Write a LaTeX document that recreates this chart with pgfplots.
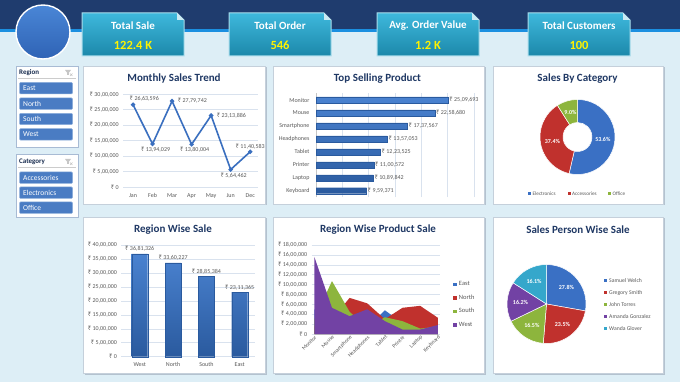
\documentclass[border=0pt]{standalone}
\usepackage{fontspec}
\setmainfont{Carlito}
\newfontfamily\rsfont{Noto Sans}
\newcommand\Rs{{\rsfont ₹}}
\usepackage{pgfplots}
\pgfplotsset{compat=1.18}
\definecolor{navy}{HTML}{1F3C6E}
\definecolor{stripe}{HTML}{1B8FE0}
\definecolor{bgc}{HTML}{DDEEF6}
\definecolor{cardtop}{HTML}{3EB8DC}
\definecolor{cardbot}{HTML}{1C88AA}
\definecolor{cardbd}{HTML}{A9DCEB}
\definecolor{titlec}{HTML}{1F3864}
\definecolor{tickgray}{HTML}{595959}
\definecolor{gridc}{HTML}{D9E2EE}
\definecolor{linec}{HTML}{3A6FBF}
\definecolor{panelbd}{HTML}{C5D0DB}
\definecolor{shadowc}{HTML}{B4C2CF}
\definecolor{btn}{HTML}{4A7CC3}
\definecolor{btnbd}{HTML}{8FB0DC}
\definecolor{slbd}{HTML}{A8BBD4}
\definecolor{circTop}{HTML}{4A86D6}
\definecolor{circBot}{HTML}{2F63B5}
\definecolor{pBlue}{HTML}{3A70C4}
\definecolor{pRed}{HTML}{C0312D}
\definecolor{pGreen}{HTML}{8DB53D}
\definecolor{pPurple}{HTML}{7242A4}
\definecolor{pTeal}{HTML}{35A7CB}
\definecolor{barTop}{HTML}{4A82D0}
\definecolor{barBot}{HTML}{2A5A9E}
\pgfplotsset{
  dbase/.style={scale only axis, anchor=north west, clip=false, scaled ticks=false,
    axis line style={draw=none}, major tick style={draw=none},
    tick label style={font=\fontsize{6}{7}\selectfont, text=tickgray},
    /pgf/number format/assume math mode=true,
    grid style={draw=gridc, line width=0.5pt}},
  nlab/.style={draw=none, mark=none, nodes near coords, point meta=explicit symbolic,
    nodes near coords style={font=\fontsize{6}{7}\selectfont, text=tickgray, inner sep=0.5pt}},
}
\begin{document}
\begin{tikzpicture}
\path[use as bounding box] (0,0) rectangle (680pt,-382pt);
\clip (0,0) rectangle (680pt,-382pt);
\begin{scope}[x=1pt,y=-1pt]
\fill[bgc] (0,0) rectangle (680,382);
\fill[navy] (0,0) rectangle (680,29);
\fill[stripe] (0,29) rectangle (680,32);
% logo circle
\shade[top color=circTop, bottom color=circBot] (43,32) circle[radius=27pt];
\draw[white, line width=1.4pt] (43,32) circle[radius=27pt];
% KPI cards
\foreach \x/\t/\v in {82/Total Sale/122.4 K, 229/Total Order/546, 377/Avg. Order Value/1.2 K, 528/Total Customers/100}{
  \shade[top color=cardtop, bottom color=cardbot] (\x,13) -- ({\x+95},13) -- ({\x+102},20) -- ({\x+102},56) -- (\x,56) -- cycle;
  \draw[cardbd, line width=1pt] (\x,13) -- ({\x+95},13) -- ({\x+102},20) -- ({\x+102},56) -- (\x,56) -- cycle;
  \fill[cardbd!60] ({\x+95},13) -- ({\x+102},20) -- ({\x+95},20) -- cycle;
  \node[white, font=\bfseries\fontsize{11}{12}\selectfont] at ({\x+51},26) {\t};
  \node[yellow, font=\bfseries\fontsize{12.5}{13}\selectfont] at ({\x+51},45) {\v};
}
% panels
\foreach \a/\b/\c/\d in {83/66/265/204, 273.5/66/484/204, 493.5/66/663.5/204, 83/217/265/373, 273.5/217/484/373, 493.5/217/663.5/373}{
  \fill[shadowc] ({\a+1.5},{\b+1.5}) rectangle ({\c+1.5},{\d+1.5});
  \fill[white, draw=panelbd, line width=0.5pt] (\a,\b) rectangle (\c,\d);
}
% panel titles
\foreach \x/\y/\t in {174/79/Monthly Sales Trend, 377.5/79/Top Selling Product, 577.5/79/Sales By Category, 173/230/Region Wise Sale, 378/230/Region Wise Product Sale, 578/230/Sales Person Wise Sale}{
  \node[titlec, font=\bfseries\fontsize{11}{12}\selectfont] at (\x,\y) {\t};
}
% slicers
\fill[white, draw=slbd, line width=0.6pt] (16,66) rectangle (78,147);
\fill[white, draw=slbd, line width=0.6pt] (16,154) rectangle (78,217);
\node[anchor=west, text=titlec!80!black, font=\bfseries\fontsize{7}{8}\selectfont, inner sep=0pt] at (19,73) {Region};
\node[anchor=west, text=titlec!80!black, font=\bfseries\fontsize{7}{8}\selectfont, inner sep=0pt] at (19,162) {Category};
\draw[gray!40, line width=0.4pt] (18,78) -- (76,78);
\draw[gray!40, line width=0.4pt] (18,167) -- (76,167);
\foreach \yy in {70,159}{
  \fill[gray!45] (65,\yy) -- (71,\yy) -- (68.8,{\yy+2.8}) -- (68.8,{\yy+5}) -- (67.2,{\yy+5}) -- (67.2,{\yy+2.8}) -- cycle;
  \draw[gray!45, line width=0.4pt] (70,{\yy+3.5}) -- (72.5,{\yy+6}) (72.5,{\yy+3.5}) -- (70,{\yy+6});
}
\foreach \yy/\t in {82.5/East, 98/North, 113.3/South, 128.7/West, 172/Accessories, 187/Electronics, 202/Office}{
  \fill[btn, draw=btnbd, line width=0.5pt, rounded corners=1pt] (19.5,\yy) rectangle (72.5,{\yy+11.4});
  \node[anchor=west, white, font=\fontsize{7.5}{8}\selectfont, inner sep=0pt] at (23,{\yy+5.9}) {\t};
}
% donut: Sales By Category
\begin{scope}[shift={(577.5,137)}]
\foreach \p/\c [remember=\e as \s (initially 90), evaluate=\p as \e using {\s-3.6*\p}] in {53.6/pBlue, 37.4/pRed, 9.0/pGreen}{
  \fill[\c, draw=white, line width=0.5pt] (\s:37.5pt) arc[start angle=\s, end angle=\e, radius=37.5pt] -- (\e:14.5pt) arc[start angle=\e, end angle=\s, radius=14.5pt] -- cycle;
  \node[white, font=\bfseries\fontsize{6}{7}\selectfont] at ({(\s+\e)/2}:25.5pt) {\p\%};
}
\end{scope}
\foreach \x/\c/\t in {528/pBlue/Electronics, 567.5/pRed/Accessories, 608/pGreen/Office}{
  \fill[\c] (\x,192.3) rectangle ({\x+3.2},195.5);
  \node[anchor=west, text=tickgray, font=\fontsize{5.2}{6}\selectfont, inner sep=0pt] at ({\x+4.5},194) {\t};
}
% pie: Sales Person Wise Sale
\begin{scope}[shift={(546.5,304)}]
\foreach \p/\c [remember=\e as \s (initially 90), evaluate=\p as \e using {\s-3.6*\p}] in {27.8/pBlue, 23.5/pRed, 16.5/pGreen, 16.2/pPurple, 16.1/pTeal}{
  \fill[\c, draw=white, line width=0.5pt] (0,0) -- (\s:39.5pt) arc[start angle=\s, end angle=\e, radius=39.5pt] -- cycle;
  \node[white, font=\bfseries\fontsize{6}{7}\selectfont] at ({(\s+\e)/2}:26pt) {\p\%};
}
\end{scope}
\foreach \yy/\c/\t in {280.7/pBlue/Samuel Welch, 292.7/pRed/Gregory Smith, 304.3/pGreen/John Torres, 316.3/pPurple/Amanda Gonzalez, 328.3/pTeal/Wanda Glover}{
  \fill[\c] (603.5,{\yy-1.7}) rectangle (606.9,{\yy+1.7});
  \node[anchor=west, text=tickgray, font=\fontsize{5.7}{6}\selectfont, inner sep=0pt] at (609,\yy) {\t};
}
\end{scope}

% ---------- Monthly Sales Trend ----------
\begin{axis}[dbase, at={(123.25pt,-94.3pt)}, width=134.75pt, height=92.7pt,
  xmin=-0.5, xmax=6.4, ymin=0, ymax=3000000, ymajorgrids,
  ytick={0,500000,1000000,1500000,2000000,2500000,3000000},
  yticklabels={{\Rs\ 0},{\Rs\ 5,00,000},{\Rs\ 10,00,000},{\Rs\ 15,00,000},{\Rs\ 20,00,000},{\Rs\ 25,00,000},{\Rs\ 30,00,000}},
  yticklabel style={xshift=-1pt},
  xtick={0,1,2,3,4,5,6}, xticklabels={Jan,Feb,Mar,Apr,May,Jun,Dec},
  xticklabel style={yshift=-3pt}]
\addplot[linec, line width=1.6pt, mark=*, mark size=1.3pt, mark options={fill=linec}]
  coordinates {(0,2663596) (1,1394029) (2,2779742) (3,1380004) (4,2313886) (5,564462) (6,1140583)};
\addplot[nlab, nodes near coords style={anchor=south west, xshift=-4pt, yshift=3pt}]
  coordinates {(0,2663596) [\Rs\ 26,63,596]};
\addplot[nlab, nodes near coords style={anchor=south, yshift=2pt}]
  coordinates {(6,1140583) [\Rs\ 11,40,583]};
\addplot[nlab, nodes near coords style={anchor=north, xshift=3pt, yshift=-2.5pt}]
  coordinates {(1,1394029) [\Rs\ 13,94,029] (3,1380004) [\Rs\ 13,80,004] (5,564462) [\Rs\ 5,64,462]};
\addplot[nlab, nodes near coords style={anchor=west, xshift=5pt}]
  coordinates {(2,2779742) [\Rs\ 27,79,742] (4,2313886) [\Rs\ 23,13,886]};
\end{axis}

% ---------- Top Selling Product ----------
\begin{axis}[dbase, at={(316pt,-93.5pt)}, width=158pt, height=103.7pt,
  xmin=0, xmax=3000000, ymin=-0.5, ymax=7.5, xmajorgrids,
  xtick={0,500000,1000000,1500000,2000000,2500000,3000000}, xticklabels={{},{},{},{},{},{},{}},
  extra x ticks={0}, extra x tick labels={{}}, extra x tick style={grid style={draw=gray!45}},
  ytick={0,1,2,3,4,5,6,7},
  yticklabels={Keyboard,Laptop,Printer,Tablet,Headphones,Smartphone,Mouse,Monitor},
  yticklabel style={xshift=-3pt}]
\addplot[xbar, bar width=6pt, draw=barBot, line width=0.3pt, top color=barTop, bottom color=barBot]
  coordinates {(959371,0) (1089842,1) (1100572,2) (1223525,3) (1357053,4) (1737567,5) (2258680,6) (2509693,7)};
\addplot[nlab, nodes near coords style={anchor=west, xshift=0.5pt}]
  coordinates {(959371,0) [\Rs\ 9,59,371] (1089842,1) [\Rs\ 10,89,842] (1100572,2) [\Rs\ 11,00,572] (1223525,3) [\Rs\ 12,23,525] (1357053,4) [\Rs\ 13,57,053] (1737567,5) [\Rs\ 17,37,567] (2258680,6) [\Rs\ 22,58,680] (2509693,7) [\Rs\ 25,09,693]};
\end{axis}

% ---------- Region Wise Sale ----------
\begin{axis}[dbase, at={(121.4pt,-245pt)}, width=133.3pt, height=111.7pt,
  xmin=-0.55, xmax=3.45, ymin=0, ymax=4000000, ymajorgrids,
  ytick={0,500000,1000000,1500000,2000000,2500000,3000000,3500000,4000000},
  yticklabels={{\Rs\ 0},{\Rs\ 5,00,000},{\Rs\ 10,00,000},{\Rs\ 15,00,000},{\Rs\ 20,00,000},{\Rs\ 25,00,000},{\Rs\ 30,00,000},{\Rs\ 35,00,000},{\Rs\ 40,00,000}},
  yticklabel style={xshift=-1pt},
  xtick={0,1,2,3}, xticklabels={West,North,South,East}, xticklabel style={yshift=-2pt}]
\addplot[ybar, bar width=16pt, draw=barBot, line width=0.3pt, top color=barTop, bottom color=barBot]
  coordinates {(0,3681326) (1,3360227) (2,2885384) (3,2311365)};
\addplot[nlab, nodes near coords style={anchor=south, yshift=1.5pt}]
  coordinates {(0,3681326) [\Rs\ 36,81,326] (1,3360227) [\Rs\ 33,60,227] (2,2885384) [\Rs\ 28,85,384] (3,2311365) [\Rs\ 23,11,365]};
\end{axis}

% ---------- Region Wise Product Sale ----------
\begin{axis}[dbase, at={(311.7pt,-245pt)}, width=128.7pt, height=89pt,
  xmin=-0.15, xmax=7.15, ymin=0, ymax=1800000, ymajorgrids,
  ytick={0,200000,400000,600000,800000,1000000,1200000,1400000,1600000,1800000},
  yticklabels={{\Rs\ 0},{\Rs\ 2,00,000},{\Rs\ 4,00,000},{\Rs\ 6,00,000},{\Rs\ 8,00,000},{\Rs\ 10,00,000},{\Rs\ 12,00,000},{\Rs\ 14,00,000},{\Rs\ 16,00,000},{\Rs\ 18,00,000}},
  yticklabel style={xshift=-1pt},
  xtick={0,1,2,3,4,5,6,7},
  xticklabels={Monitor,Mouse,Smartphone,Headphones,Tablet,Printer,Laptop,Keyboard},
  xticklabel style={rotate=45, anchor=north east, inner sep=0.5pt, font=\fontsize{5.5}{6}\selectfont},
  legend style={draw=none, fill=none, at={(1.1,0.33)}, anchor=west,
    font=\fontsize{6.5}{7}\selectfont, text=tickgray, row sep=3.5pt, inner sep=0pt},
  legend cell align=left,
  legend image code/.code={\fill[#1] (0pt,-1.8pt) rectangle (3.5pt,1.8pt);}]
\addplot[fill=pBlue, draw=none] coordinates {(0,500000) (1,300000) (2,200000) (3,120000) (4,480000) (5,220000) (6,320000) (7,300000)} \closedcycle;
\addlegendentry{East}
\addplot[fill=pRed, draw=none] coordinates {(0,150000) (1,300000) (2,730000) (3,620000) (4,300000) (5,530000) (6,570000) (7,330000)} \closedcycle;
\addlegendentry{North}
\addplot[fill=pGreen, draw=none] coordinates {(0,300000) (1,1070000) (2,450000) (3,120000) (4,340000) (5,260000) (6,110000) (7,150000)} \closedcycle;
\addlegendentry{South}
\addplot[fill=pPurple, draw=none] coordinates {(0,1560000) (1,530000) (2,360000) (3,500000) (4,260000) (5,90000) (6,90000) (7,180000)} \closedcycle;
\addlegendentry{West}
\end{axis}
\end{tikzpicture}
\end{document}
